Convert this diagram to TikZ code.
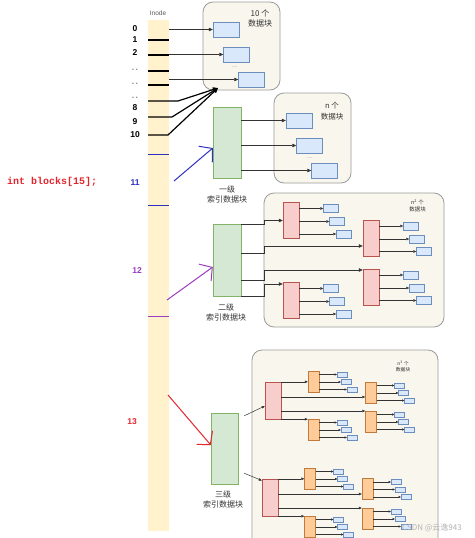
\documentclass[tikz,border=0pt]{standalone}
\usepackage{fontspec}
\setmainfont{Liberation Sans}
\setmonofont{Liberation Mono}
\newfontfamily\cjk{Noto Sans CJK SC}
\usepackage{tikz}
\usetikzlibrary{arrows.meta, positioning, calc}

\definecolor{inodefill}{HTML}{FFF2CC}
\definecolor{contfill}{HTML}{F9F7ED}
\definecolor{contline}{HTML}{9A9A9A}
\definecolor{blkfill}{HTML}{DAE8FC}
\definecolor{blkline}{HTML}{6C8EBF}
\definecolor{idxfill}{HTML}{D5E8D4}
\definecolor{idxline}{HTML}{82B366}
\definecolor{pinkfill}{HTML}{F8CECC}
\definecolor{pinkline}{HTML}{B85450}
\definecolor{orgfill}{HTML}{FFCC99}
\definecolor{orgline}{HTML}{C07A3C}
\definecolor{linkgray}{HTML}{333333}
\definecolor{lvlone}{HTML}{2F2FC4}
\definecolor{lvltwo}{HTML}{9B3BBF}
\definecolor{lvlthree}{HTML}{E3262E}

% parent box with three leaf blocks in a staircase
\newcommand{\fanout}[4]{%
  \foreach \dx/\dy [count=\k] in {#4} {
    \node[#2] (#1\k) at ($(#1)+(\dx,\dy)$) {};
    \draw[#3] (#1.east |- #1\k) -- (#1\k);
  }%
}

\begin{document}
\begin{tikzpicture}[x=1pt, y=-1pt,
    cont/.style={draw=contline, fill=contfill, line width=0.8pt, rounded corners=10pt},
    dblk/.style={draw=blkline, fill=blkfill, minimum width=26, minimum height=15, inner sep=0},
    sblk/.style={draw=blkline, fill=blkfill, minimum width=15, minimum height=8, inner sep=0, line width=0.4pt},
    tblk/.style={draw=blkline, fill=blkfill, minimum width=10, minimum height=5, inner sep=0, line width=0.3pt},
    idx/.style={draw=idxline, fill=idxfill, minimum width=28, minimum height=71, inner sep=0},
    pinkbox/.style={draw=pinkline, fill=pinkfill, minimum width=16, minimum height=36, inner sep=0},
    orgbox/.style={draw=orgline, fill=orgfill, minimum width=11, minimum height=21, inner sep=0, line width=0.4pt},
    link/.style={draw=linkgray, line width=0.6pt, -{Triangle[length=4pt,width=3.5pt]}},
    slink/.style={draw=linkgray, line width=0.5pt, -{Triangle[length=3pt,width=2.6pt]}},
    tlink/.style={draw=linkgray, line width=0.4pt, -{Triangle[length=2.2pt,width=2pt]}},
    fan/.style={line width=1.2pt, -{Triangle[length=5pt,width=4.5pt]}},
    lvl/.style={line width=1pt, -{Straight Barb[length=9pt,width=21pt]}},
    num/.style={font=\fontsize{8.5}{9}\selectfont\bfseries, inner sep=0},
    lbl/.style={font=\cjk\fontsize{8}{10}\selectfont, align=center, inner sep=0, text=black!80},
    ellip/.style={font=\fontsize{5}{5}\selectfont, text=black!50, inner sep=0}]

\useasboundingbox (0,0) rectangle (474,538);
\clip (0,0) rectangle (474,538);

% inode array
\node[fill=inodefill, minimum width=21, minimum height=511, inner sep=0] (inode) at (158.5,275.5) {};
\node[font=\fontsize{6.5}{7}\selectfont, text=black!65, inner sep=0] (inodetxt) at (158,13) {Inode};
\foreach \y in {40,55,71,85}
  \draw[line width=1.2pt] (148,\y) -- (169,\y);
\draw[lvlone, line width=1pt] (148,154) -- (169,154);
\draw[lvlone, line width=1pt] (148,205) -- (169,205);
\draw[lvltwo, line width=1pt] (148,316) -- (169,316);

% indices
\foreach \m/\y in {0/29, 1/40, 2/53, 8/108, 9/122, 10/135}
  \node[num] (i\m) at (135,\y) {\m};
\foreach \y [count=\i] in {70,84,98}
  \node[num, text=black!50] (gap\i) at (135,\y) {.\,.};

\node[font=\ttfamily\bfseries\fontsize{10}{12}\selectfont, text=lvlthree, anchor=west, inner sep=0] (decl) at (7,182) {int blocks[15];};

% direct blocks
\node[cont, minimum width=77, minimum height=88] (c10) at (241.5,46) {};
\node[lbl] (c10txt) at (260,18) {10 个\\数据块};
\node[dblk] (d1) at (226,29.5) {};
\node[dblk] (d2) at (236.5,54.5) {};
\node[dblk] (d3) at (251.5,79.5) {};
\node[ellip] (d23) at (235,67) {....};
\draw[link] (inode.east |- d1) -- (d1);
\draw[link] (inode.east |- d2) -- (d2);
\draw[link] (inode.east |- d3) -- (d3);

% rows 8-10 point to the data blocks too
\coordinate (hub) at (218,88);
\coordinate (r8) at (148,101);
\coordinate (r9) at (148,117);
\coordinate (r10) at (148,135);
\draw[fan] (r8) -- ++(30,0) -- (hub);
\draw[fan] (r9) -- ++(24,0) -- (hub);
\draw[fan] (r10) -- ++(20,0) -- (hub);

% single indirect
\node[cont, minimum width=77, minimum height=90] (cn) at (312.5,138) {};
\node[lbl, font=\cjk\fontsize{7.5}{11}\selectfont] (cntxt) at (332,111) {n 个\\数据块};
\node[idx] (g1) at (227,142.5) {};
\node[lbl] (g1txt) at (227,194) {一级\\索引数据块};
\node[dblk] (e1) at (299,120.5) {};
\node[dblk] (e2) at (309.5,145.5) {};
\node[dblk] (e3) at (324.5,170.5) {};
\node[ellip] (e23) at (310,158) {....};
\foreach \b in {e1,e2,e3}
  \draw[link] (g1.east |- \b) -- (\b);
\coordinate (p11) at (174,181);
\draw[lvl, lvlone] (p11) -- ([yshift=-5.5pt]g1.west);
\node[num, text=lvlone] (l11) at (135,183) {11};

% double indirect
\node[cont, minimum width=180, minimum height=134] (cn2) at (354,260) {};
\node[lbl, font=\cjk\fontsize{5.5}{6.5}\selectfont] (cn2txt) at (417.5,206) {n\textsuperscript{2} 个\\数据块};
\node[idx, minimum height=72] (g2) at (227,260) {};
\node[lbl] (g2txt) at (226,312) {二级\\索引数据块};
\node[pinkbox] (pA) at (291,220.5) {};
\node[pinkbox] (pB) at (371,238) {};
\node[pinkbox] (pC) at (371,287) {};
\node[pinkbox] (pD) at (291,300.5) {};
\draw[link] (g2.north east) -- ++(23,0) |- (pA.west);
\draw[link] ([yshift=7pt]g2.east) -- ++(23,0) |- ([yshift=-8pt]pB.west);
\draw[link] ([yshift=-20pt]g2.east) -- ++(23,0) |- ([yshift=17pt]pC.west);
\draw[link] (g2.south east) -- ++(23,0) |- ([yshift=16.5pt]pD.west);
\foreach \p in {pA,pB,pC,pD}
  \fanout{\p}{sblk}{slink}{40/-12, 46/1, 53/13.5};
\coordinate (p12) at (167,300);
\draw[lvl, lvltwo] (p12) -- ([yshift=-7pt]g2.west);
\node[num, text=lvltwo] (l12) at (137,271) {12};

% triple indirect
\node[cont, minimum width=186, minimum height=220] (cn3) at (345,460) {};
\node[lbl, font=\cjk\fontsize{4.8}{6}\selectfont] (cn3txt) at (403,366) {n\textsuperscript{3} 个\\数据块};
\node[idx, minimum width=27] (g3) at (224.5,448.5) {};
\node[lbl] (g3txt) at (223,499) {三级\\索引数据块};
\node[pinkbox, minimum height=37] (hA) at (273,400.5) {};
\node[pinkbox, minimum height=37] (hB) at (270,497.5) {};
\draw[slink] ([xshift=6pt,yshift=-3pt]g3.north east) -- ([yshift=-5.5pt]hA.west);
\draw[slink] ([xshift=6pt,yshift=11pt]g3.south east) -- ([yshift=17pt]hB.west);

\node[orgbox] (oA) at (313.5,381.5) {};
\node[orgbox] (oB) at (371,392.5) {};
\node[orgbox] (oC) at (371,421.5) {};
\node[orgbox] (oD) at (313.5,429.5) {};
\coordinate (hA2) at ([yshift=3.5pt]hA.east);
\coordinate (hA3) at ([yshift=-10.5pt]hA.east);
\draw[slink] (hA.north east) -- (hA.north east -| oA.west);
\draw[slink] (hA2) -- (hA2 -| oB.west);
\draw[slink] (hA3) -- (hA3 -| oC.west);
\draw[slink] (hA.south east) -- (hA.south east -| oD.west);
\foreach \o in {oA,oB,oC,oD}
  \fanout{\o}{tblk}{tlink}{28.5/-7, 32.5/0.5, 38.5/8};

\node[orgbox] (qA) at (310,478.5) {};
\node[orgbox] (qB) at (367.5,489) {};
\node[orgbox] (qC) at (367.5,518.5) {};
\node[orgbox] (qD) at (310,526.5) {};
\coordinate (hB2) at ([yshift=3.5pt]hB.east);
\coordinate (hB3) at ([yshift=-10.5pt]hB.east);
\draw[slink] (hB.north east) -- (hB.north east -| qA.west);
\draw[slink] (hB2) -- (hB2 -| qB.west);
\draw[slink] (hB3) -- (hB3 -| qC.west);
\draw[slink] (hB.south east) -- (hB.south east -| qD.west);
\foreach \o in {qA,qB,qC,qD}
  \fanout{\o}{tblk}{tlink}{28.5/-7, 32.5/0.5, 38.5/8};

\coordinate (p13) at (168,395);
\draw[lvl, lvlthree] (p13) -- ([yshift=3.5pt]g3.west);
\node[num, text=lvlthree] (l13) at (132,422) {13};

\node[font=\cjk\fontsize{8}{9}\selectfont, text=black!30, inner sep=0] (wm) at (432,528) {CSDN @云逸943};
\end{tikzpicture}
\end{document}
